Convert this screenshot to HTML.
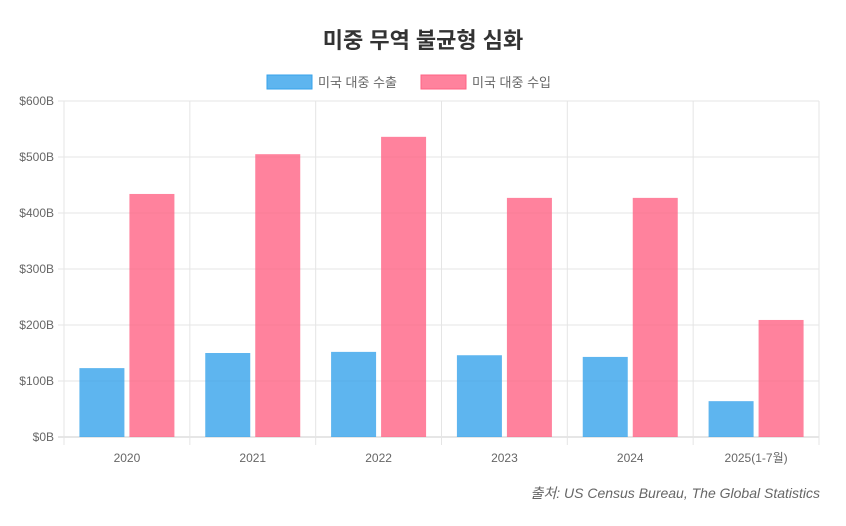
<!DOCTYPE html>
<html><head><meta charset="utf-8"><style>
body{margin:0;background:#fff;width:846px;height:521px;overflow:hidden;font-family:"Liberation Sans","Noto Sans CJK KR",sans-serif}
</style></head><body>
<svg width="846" height="521" id="c">
<text x="423" y="48" text-anchor="middle" font-size="22" font-weight="bold" fill="#333">미중 무역 불균형 심화</text>
<g>
<rect x="267" y="75" width="45" height="14" fill="rgba(54,162,235,0.8)" stroke="rgba(54,162,235,1)"/>
<text x="318" y="87" font-size="13" fill="#666">미국 대중 수출</text>
<rect x="421" y="75" width="45" height="14" fill="rgba(255,99,132,0.8)" stroke="rgba(255,99,132,1)"/>
<text x="472" y="87" font-size="13" fill="#666">미국 대중 수입</text>
</g>
<g id="grid"></g><g id="bars"></g><g id="labels"></g>
<text x="820" y="498" text-anchor="end" font-size="14" font-style="italic" fill="#666">출처: US Census Bureau, The Global Statistics</text>
</svg>
<script>
const categories=["2020","2021","2022","2023","2024","2025(1-7월)"];
const exportsB=[123,150,152,146,143,64];
const importsB=[434,505,536,427,427,209];
const yTicks=[0,100,200,300,400,500,600];
const ns="http://www.w3.org/2000/svg";
const L=64,R=819,T=101,B=437,maxV=600;
const cw=(R-L)/categories.length;
const y=v=>B-(v/maxV)*(B-T);
const x=i=>L+cw*i;
function mk(t,a,p){const e=document.createElementNS(ns,t);for(const k in a)e.setAttribute(k,a[k]);p.appendChild(e);return e;}
const g=document.getElementById('grid'),bg=document.getElementById('bars'),lg=document.getElementById('labels');
yTicks.forEach(v=>{
 const l=mk('line',{x1:L-6,x2:R,y1:y(v),y2:y(v),stroke:v===0?'#ccc':'#e5e5e5'},g);
 
 
 const t=mk('text',{x:L-10,y:y(v)+4,'text-anchor':'end','font-size':12,fill:'#666'},lg);
 t.textContent='$'+v+'B';
 
 
});
for(let i=0;i<=categories.length;i++){
 const l=mk('line',{x1:x(i),x2:x(i),y1:T,y2:B+8,stroke:'#e5e5e5'},g);
 
 
}
const bw=45,gap=5;
categories.forEach((c,i)=>{
 const cx=x(i)+cw/2;
 const b1=mk('rect',{x:cx-gap/2-bw,y:y(exportsB[i]),width:bw,height:B-y(exportsB[i]),fill:'rgba(54,162,235,0.8)'},bg);
 
 
 const b2=mk('rect',{x:cx+gap/2,y:y(importsB[i]),width:bw,height:B-y(importsB[i]),fill:'rgba(255,99,132,0.8)'},bg);
 
 
 const t=mk('text',{x:cx,y:B+25,'text-anchor':'middle','font-size':12,fill:'#666'},lg);
 t.textContent=c;
 
 
});
</script>
</body></html>
